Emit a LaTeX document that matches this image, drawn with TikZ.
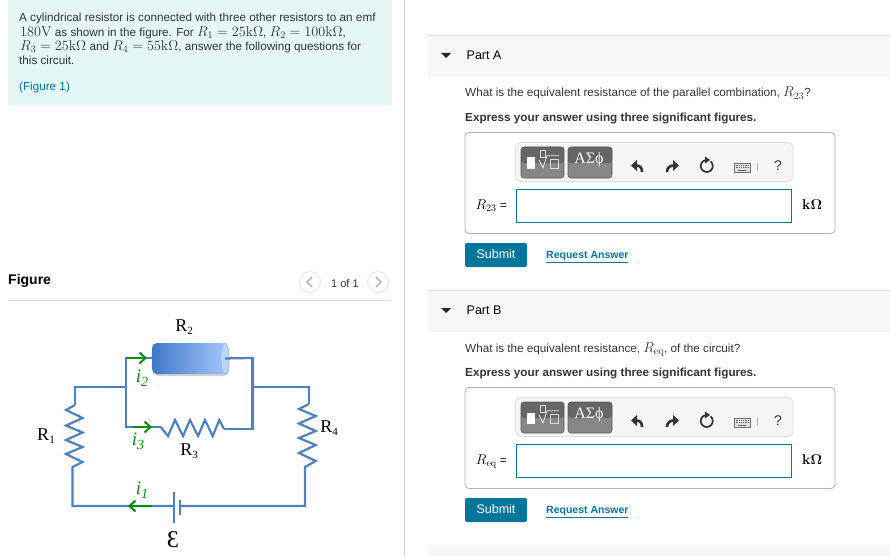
\documentclass[tikz,border=0pt]{standalone}
\usepackage{fix-cm}
\usepackage[no-math]{fontspec}
\setmainfont{Liberation Sans}
\newfontfamily\serifx{Liberation Serif}
\usetikzlibrary{arrows.meta,shapes.geometric}
\DeclareMathSizes{14.2}{14.2}{10}{7.5}
\definecolor{wire}{HTML}{4F81BD}
\definecolor{cgreen}{HTML}{0B8A0B}
\definecolor{tealx}{HTML}{00769B}
\definecolor{panelx}{HTML}{E5F6F7}
\definecolor{bandx}{HTML}{F7F7F7}
\definecolor{inkx}{HTML}{333333}
\definecolor{rulex}{HTML}{C3D3E6}
\definecolor{cylleft}{HTML}{3F78C9}
\definecolor{cylright}{HTML}{A2C6F9}
\definecolor{cylend}{HTML}{BAD6FA}
\newcommand{\mth}[1]{{\fontsize{14.2}{15}\selectfont$#1$}}
\newcommand{\sbs}[1]{\raisebox{-3pt}{\fontsize{11}{11}\selectfont #1}}
\newcommand{\isb}[1]{\raisebox{-4pt}{\fontsize{14}{14}\selectfont #1}}
\tikzset{
  lbl/.style={anchor=base west,inner sep=0pt,text=inkx,font=\fontsize{11.7}{14}\selectfont},
  boldlbl/.style={lbl,font=\fontsize{11.7}{14}\selectfont\bfseries},
  partlbl/.style={lbl,text=black,font=\fontsize{12.5}{14}\selectfont},
  ckt/.style={inner sep=0pt,font=\serifx\fontsize{18}{20}\selectfont,text=black},
  cur/.style={inner sep=0pt,font=\serifx\itshape\fontsize{19}{20}\selectfont,text=cgreen},
  wireline/.style={draw=wire,line width=2.2pt,line join=miter},
  curarrow/.style={draw=cgreen,line width=2pt,-{Straight Barb[length=6pt,width=11pt,line width=2pt]}},
  iconfill/.style={fill=black!80,draw=none},
  band/.style={fill=bandx,draw=none},
  btn/.style={draw=black!65,line width=.6pt,rounded corners=3pt},
}
\newcommand{\answerblock}[3]{%
 \begin{scope}[yshift=-#1pt]
  \fill[band] (428,36) rectangle (890,77);
  \draw[black!12,line width=1pt] (428,35.5) -- (890,35.5);
  \fill[black!85] (441,53) -- (451,53) -- (446,58) -- cycle;
  \node[partlbl] (part#1) at (466.5,59.5) {#2};
  \node[boldlbl] (expr#1) at (465,121.5) {Express your answer using three significant figures.};
  \draw[black!30,line width=.8pt,rounded corners=4pt] (465,132.5) rectangle (835,233.5);
  \draw[black!12,fill=black!4,line width=.8pt,rounded corners=5pt] (515.5,142.5) rectangle (793,181.5);
  % template button
  \fill[black!47,rounded corners=3pt] (521,147) rectangle (564,178);
  \fill[black!60,rounded corners=3pt] (521,147) -- (521,163) -- (564,163) -- (564,147) -- cycle;
  \draw[btn] (521,147) rectangle (564,178);
  \fill[white] (527,157.5) rectangle (535,168.5);
  \draw[white!85!black,line width=.7pt] (540,150) rectangle (545,157);
  \draw[white!90!black,line width=.8pt] (539,160) -- (543,168) -- (547,155.7) -- (559,155.7);
  \draw[white!85!black,line width=.7pt] (550,159) rectangle (558.5,168.5);
  % symbols button
  \fill[black!47,rounded corners=3pt] (568,147) rectangle (612,178);
  \fill[black!60,rounded corners=3pt] (568,147) -- (568,163) -- (612,163) -- (612,147) -- cycle;
  \draw[btn] (568,147) rectangle (612,178);
  \node[inner sep=0pt,text=white,font=\serifx\fontsize{16}{18}\selectfont] (sym#1) at (589,159.5) {ΑΣϕ};
  % undo, redo
  \fill[iconfill] (631,165.5) -- (637,160) -- (637,171) -- cycle;
  \draw[black!80,line width=2.6pt] (636,165.5) .. controls (640,165.5) and (642,167.5) .. (642,172);
  \fill[iconfill] (679,165.5) -- (673,160) -- (673,171) -- cycle;
  \draw[black!80,line width=2.6pt] (674,165.5) .. controls (670,165.5) and (667,167.5) .. (667,172);
  % reload
  \draw[black!80,line width=1.7pt] (710.6,161.4) arc[start angle=-50,end angle=268,radius=6];
  \fill[iconfill] (710,160) -- (705,156.5) -- (705,163.5) -- cycle;
  % keyboard
  \draw[black!55,fill=black!12,line width=.7pt] (734,163) rectangle (750,172);
  \draw[black!60,line width=1pt,dash pattern=on 1pt off .8pt] (735.5,165) -- (749,165);
  \draw[black!60,line width=1pt,dash pattern=on 1pt off .8pt] (735.5,167.5) -- (749,167.5);
  \draw[black!60,line width=1pt] (738,170) -- (746,170);
  \draw[black!30,line width=.6pt] (757,163) -- (757,171);
  \node[inner sep=0pt,text=inkx,font=\fontsize{14}{16}\selectfont] (help#1) at (778,165.5) {?};
  \draw[tealx,line width=1pt,fill=white] (516.5,189.5) rectangle (791.5,222.5);
  \node[lbl,anchor=base east,text=black] (var#1) at (507,209.5) {#3 =};
  \node[lbl,text=black] (unit#1) at (802,209.5) {\mth{\mathbf{k\Omega}}};
  \fill[tealx,rounded corners=2pt] (465,243) rectangle (527,267);
  \node[inner sep=0pt,text=white,font=\fontsize{12.5}{14}\selectfont] (sub#1) at (496,254) {Submit};
  \node[lbl,text=tealx,font=\fontsize{10.5}{13}\selectfont\bfseries] (req#1) at (546,258.5) {\underline{Request Answer}};
 \end{scope}}
\begin{document}
\begin{tikzpicture}[x=1pt,y=-1pt]
\useasboundingbox (0,0) rectangle (890,556);
\fill[white] (0,0) rectangle (890,556);
% left panel
\fill[panelx] (8,0) rectangle (392,105);
\draw[rulex,line width=1.6pt] (404.5,0) -- (404.5,556);
\node[lbl] (l1) at (19,21.5) {A cylindrical resistor is connected with three other resistors to an emf};
\node[lbl] (l2) at (20,36.5) {\mth{\mathrm{180V}} as shown in the figure. For \mth{R_1=25\mathrm{k\Omega}}, \mth{R_2=100\mathrm{k\Omega}},};
\node[lbl] (l3) at (20,50.5) {\mth{R_3=25\mathrm{k\Omega}} and \mth{R_4=55\mathrm{k\Omega}}, answer the following questions for};
\node[lbl] (l4) at (19,64.5) {this circuit.};
\node[lbl,text=tealx] (l5) at (19,91) {(Figure 1)};
% figure header
\node[lbl,text=black,font=\fontsize{14}{15}\selectfont\bfseries] (figtitle) at (8,284) {Figure};
\draw[black!15,line width=1pt] (8,300.5) -- (391,300.5);
\draw[black!10,line width=1pt] (310,282) circle[radius=10.5];
\draw[black!10,line width=1pt] (378,282) circle[radius=10.5];
\draw[black!35,line width=1.2pt] (312,277) -- (307,282) -- (312,287);
\draw[black!35,line width=1.2pt] (376,277) -- (381,282) -- (376,287);
\node[lbl,font=\fontsize{11}{13}\selectfont] (pager) at (331,287) {1 of 1};
% right parts
\answerblock{0}{Part A}{\mth{R_{23}}}
\answerblock{255}{Part B}{\mth{R_{\mathrm{eq}}}}
\fill[band] (428,546) rectangle (890,556);
\node[lbl] (qa) at (465,97) {What is the equivalent resistance of the parallel combination, \mth{R_{23}}?};
\node[lbl] (qb) at (465,352) {What is the equivalent resistance, \mth{R_{\mathrm{eq}}}, of the circuit?};
% circuit
\coordinate (tl) at (75,387);
\coordinate (ja) at (126,387);
\coordinate (up) at (126,358);
\coordinate (r2l) at (153,358);
\coordinate (r2r) at (227,358);
\coordinate (upr) at (252.5,358);
\coordinate (jb) at (252.5,387);
\coordinate (tr) at (309,387);
\coordinate (r4t) at (309,404);
\coordinate (r4b) at (305,467);
\coordinate (br) at (305,506);
\coordinate (b2) at (180,506);
\coordinate (b1) at (174,506);
\coordinate (bl) at (72.5,506);
\coordinate (r1b) at (72.5,467);
\coordinate (r1t) at (75,405);
\coordinate (r3ll) at (126,427);
\coordinate (r3a) at (160.7,427);
\coordinate (r3b) at (224,429);
\coordinate (r3rr) at (252.5,429);
\draw[wireline] (r1t) -- (tl) -- (ja) -- (up) -- (r2l);
\draw[wireline] (r2r) -- (upr) -- (jb) -- (tr) -- (r4t);
\draw[wireline] (ja) -- (r3ll) -- (r3a);
\draw[wireline] (jb) -- (r3rr) -- (r3b);
\draw[wireline] (r3a) -- (168,436) -- (175,420) -- (183,436) -- (190,420) -- (198,436) -- (205,420) -- (212.7,436) -- (219.3,420) -- (r3b);
\draw[wireline] (r1t) -- (66,410) -- (82.5,418) -- (66,425.5) -- (82.5,432.5) -- (66,440) -- (82.5,447) -- (66,454) -- (82.5,462) -- (r1b) -- (bl) -- (b1);
\draw[wireline] (r4t) -- (299,409) -- (315.7,416) -- (299,423.5) -- (315.7,431) -- (299,438) -- (315.7,445) -- (299,453) -- (315.7,461) -- (r4b) -- (br) -- (b2);
\draw[wire,line width=2.2pt] (173.7,492) -- (173.7,523);
\draw[wire,line width=2.2pt] (180,500) -- (180,515);
% R2 cylinder
\fill[black!18,rounded corners=5pt] (153,345) rectangle (229,376);
\shade[left color=cylleft,right color=cylright,rounded corners=5pt] (152,343) rectangle (227,374);
\node[draw=wire!55!white,fill=cylend,ellipse,minimum width=8pt,minimum height=31pt,inner sep=0pt,line width=.7pt] (r2end) at (225,358.5) {};
\draw[wireline] (r2end.center) -- (upr);
\coordinate (i2a) at (127,358);
\coordinate (i2b) at (147,358);
\draw[curarrow] (i2a) -- (i2b);
\coordinate (i3a) at (133,427);
\coordinate (i3b) at (152,427);
\draw[curarrow] (i3a) -- (i3b);
\coordinate (i1a) at (152,506);
\coordinate (i1b) at (128,506);
\draw[curarrow] (i1a) -- (i1b);
\node[ckt] (R2) at (184,327) {R\sbs{2}};
\node[ckt] (R1) at (46,436) {R\sbs{1}};
\node[ckt] (R4) at (329,428) {R\sbs{4}};
\node[ckt] (R3) at (189,451) {R\sbs{3}};
\node[cur] (i2) at (142,378) {i\isb{2}};
\node[cur] (i3) at (138,441) {i\isb{3}};
\node[cur] (i1) at (142,490) {i\isb{1}};
\node[ckt,font=\serifx\fontsize{24}{26}\selectfont] (emf) at (173,540) {Ɛ};
\end{tikzpicture}
\end{document}
